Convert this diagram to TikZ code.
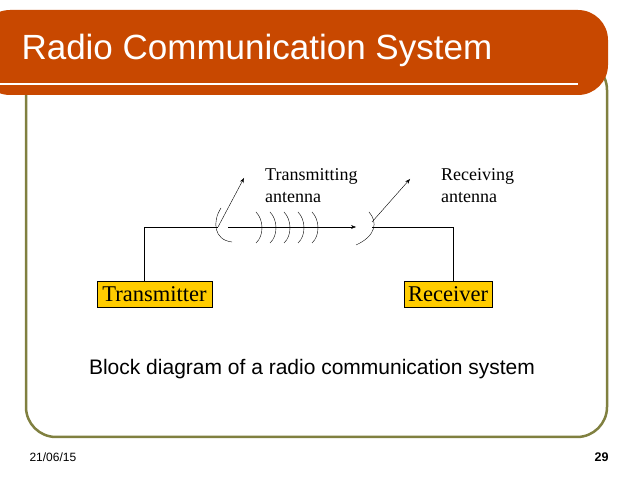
\documentclass[tikz,border=0pt]{standalone}
\usepackage{fontspec}
\setmainfont{Liberation Serif}
\newfontfamily\arial{Liberation Sans}
\usetikzlibrary{arrows.meta}
\definecolor{banner}{RGB}{200,72,0}
\definecolor{frameol}{RGB}{128,128,64}
\definecolor{boxgold}{RGB}{255,204,0}
\tikzset{
  blk/.style={draw, fill=boxgold, minimum height=26pt, inner sep=2pt, font=\fontsize{22.5}{24}\selectfont},
  lbl/.style={align=left, anchor=north west, inner sep=0pt, font=\fontsize{18}{22}\selectfont},
  wire/.style={thin},
  ant/.style={-{Stealth[length=5pt]}, thin},
  wave/.style={thin}
}
\begin{document}
\begin{tikzpicture}[x=1pt,y=-1pt]
\useasboundingbox (0,0) rectangle (638,478);
% frame
\draw[frameol, line width=2.5pt, rounded corners=30pt] (26,60) rectangle (607,437);
% banner
\fill[banner, rounded corners=30pt] (-20,10) rectangle (608,95);
\draw[white, line width=1.5pt] (0,84) -- (578,84);
\node[anchor=west, text=white, font=\arial\fontsize{35}{38}\selectfont] (title) at (18,50) {Radio Communication System};
% blocks
\node[blk, minimum width=115pt] (tx) at (154.5,294) {Transmitter};
\node[blk, minimum width=88pt] (rx) at (448,294) {Receiver};
\coordinate (ta) at (218,227);
\coordinate (ra) at (372,227);
\coordinate (tat) at (244,178);
\coordinate (rat) at (410,179);
\draw[wire] (tx.north -| 144,0) |- (ta);
\draw[wire] (rx.north -| 453,0) |- (ra);
\draw[ant] (ta) -- (tat);
\draw[ant] (ra) ++(0,-5) -- (rat);
\draw[ant] (228,227) -- (356,227);
% antenna curls
\draw[wave] (221,208) .. controls (212,222) and (214,240) .. (232,242);
\draw[wave] (369,212) .. controls (378,222) and (376,236) .. (356,245);
% waves
\foreach \x in {256,270,284,298,312}
  \draw[wave] (\x,212) .. controls (\x+8,220) and (\x+8,236) .. (\x,243);
% labels
\node[lbl] (tl) at (265,168) {Transmitting\\antenna};
\node[lbl] (rl) at (441,168) {Receiving\\antenna};
\node[font=\arial\fontsize{21}{24}\selectfont] (cap) at (312,369) {Block diagram of a radio communication system};
\node[anchor=west, font=\arial\fontsize{12}{14}\selectfont] (date) at (26,457) {21/06/15};
\node[anchor=east, font=\arial\bfseries\fontsize{12.5}{14}\selectfont] (pg) at (612,457) {29};
\end{tikzpicture}
\end{document}
